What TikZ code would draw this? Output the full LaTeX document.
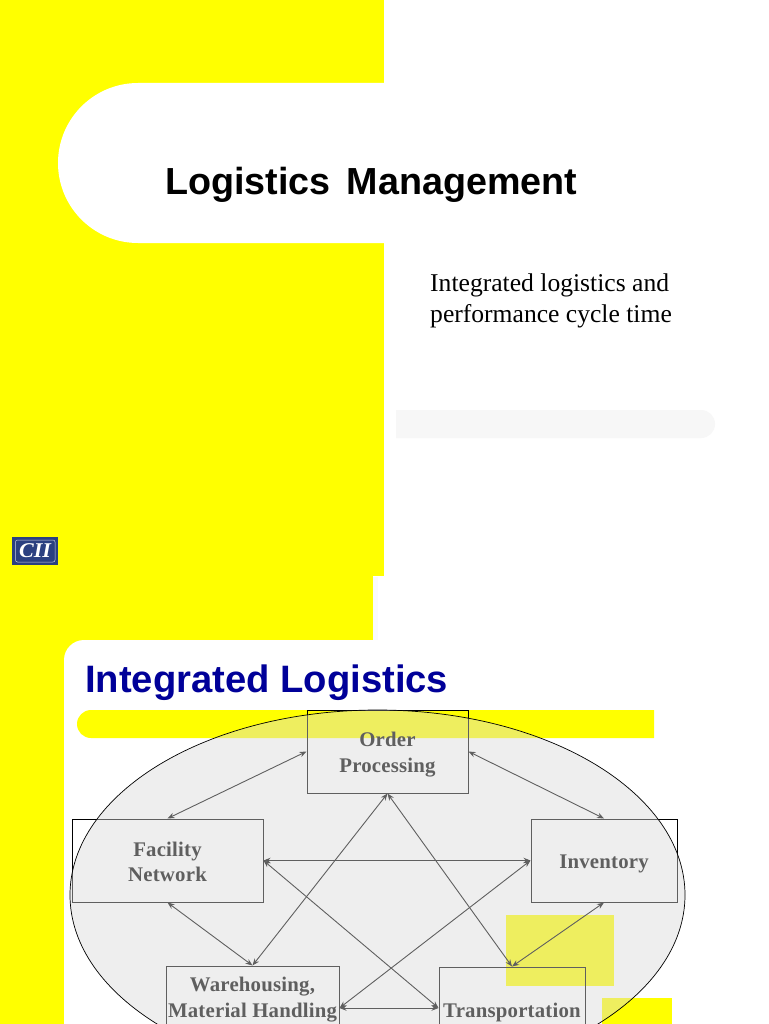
\documentclass[tikz,border=0pt]{standalone}
\usepackage{fontspec}
\setmainfont{Liberation Serif}
\setsansfont{Liberation Sans}
\usetikzlibrary{arrows.meta}
\definecolor{slideyellow}{RGB}{255,255,0}
\definecolor{navytitle}{RGB}{0,0,153}
\definecolor{logoblue}{RGB}{43,64,128}
\definecolor{barfaint}{RGB}{247,247,247}
\definecolor{veil}{RGB}{217,217,217}
\tikzset{
  box/.style={draw=black,line width=1pt,inner sep=0pt,align=center,text=black,
    font=\fontsize{20.8}{26}\selectfont\bfseries\addfontfeatures{LetterSpace=1}},
  link/.style={draw=black,line width=0.9pt,{Stealth[length=7pt,width=5.5pt]}-{Stealth[length=7pt,width=5.5pt]}}
}
\begin{document}
\begin{tikzpicture}[x=1pt,y=-1pt]
\useasboundingbox (0,0) rectangle (768,1024);
\clip (0,0) rectangle (768,1024);
% upper slide
\fill[white] (0,0) rectangle (768,1024);
\fill[slideyellow] (0,0) rectangle (384,576);
\fill[white] (384,83) -- (138,83) arc[start angle=-90,end angle=-270,radius=80] -- (384,243) -- cycle;
\fill[barfaint] (396,410) -- (701,410) arc[start angle=-90,end angle=90,radius=14] -- (396,438) -- cycle;
\node[anchor=base west,inner sep=0pt,font=\sffamily\bfseries\fontsize{37.7}{44}\selectfont] (title1) at (165,195) {Logistics\hspace{16pt}Management};
\node[anchor=base west,inner sep=0pt,font=\fontsize{25.6}{31}\selectfont,align=left] (sub1) at (430,322) {Integrated logistics and\\performance cycle time};
% logo
\node[fill=logoblue,minimum width=46pt,minimum height=28pt,inner sep=0pt] (logo) at (35,551) {};
\draw[white!75!logoblue,line width=0.5pt,rounded corners=2pt] (15.5,540) rectangle (55,562);
\node[white,inner sep=0pt,xscale=1.05,font=\bfseries\itshape\fontsize{21}{21}\selectfont] (logotext) at (35,551) {CII};
% lower slide
\fill[slideyellow] (0,576) rectangle (373,660);
\fill[slideyellow] (0,640) rectangle (64,1024);
\fill[white] (373,640) -- (84,640) arc[start angle=-90,end angle=-180,radius=20] -- (64,1024) -- (768,1024) -- (768,640) -- cycle;
\fill[white!98!black] (373,577) rectangle (378,640);
\node[anchor=base west,inner sep=0pt,text=navytitle,font=\sffamily\bfseries\fontsize{38.2}{44}\selectfont] (title2) at (85,692) {Integrated Logistics};
\fill[slideyellow] (654,710) -- (91,710) arc[start angle=-90,end angle=-270,radius=14] -- (654,738) -- cycle;
\fill[slideyellow] (505.5,915) rectangle (614,985.5);
\fill[slideyellow] (602,998) rectangle (672,1040);
% boxes
\node[box,minimum width=161pt,minimum height=83pt] (order) at (387.5,751.5) {\mbox{}\\[-6pt]Order\\Processing};
\node[box,minimum width=191pt,minimum height=83pt] (facility) at (167.5,860.5) {\mbox{}\\[-9pt]Facility\\[-1pt]Network};
\node[box,minimum width=146pt,minimum height=83pt] (inventory) at (604,860.5) {\mbox{}\\[-6pt]Inventory};
\node[box,minimum width=173pt,minimum height=84pt] (warehouse) at (252.5,1008) {Warehousing,\\Material Handling\\[-4pt]\mbox{}};
\node[box,minimum width=146pt,minimum height=82pt] (transport) at (512,1008) {\mbox{}\\[-3pt]Transportation};
% connectors
\draw[link] (order.west) -- (facility.north);
\draw[link] (order.east) -- (inventory.north);
\draw[link] (order.south) -- (warehouse.north);
\draw[link] (order.south) -- (transport.north);
\draw[link] (facility.east) -- (inventory.west);
\draw[link] (facility.east) -- (transport.west);
\draw[link] (facility.south) -- (warehouse.north);
\draw[link] (inventory.south) -- (transport.north);
\draw[link] (inventory.west) -- (warehouse.east);
\draw[link] (warehouse.east) -- (transport.west);
% translucent ellipse over everything
\fill[veil,fill opacity=0.44] (377.5,895) ellipse[x radius=307.5,y radius=185];
\draw[black,line width=0.7pt] (377.5,895) ellipse[x radius=307.5,y radius=185];
\end{tikzpicture}
\end{document}
